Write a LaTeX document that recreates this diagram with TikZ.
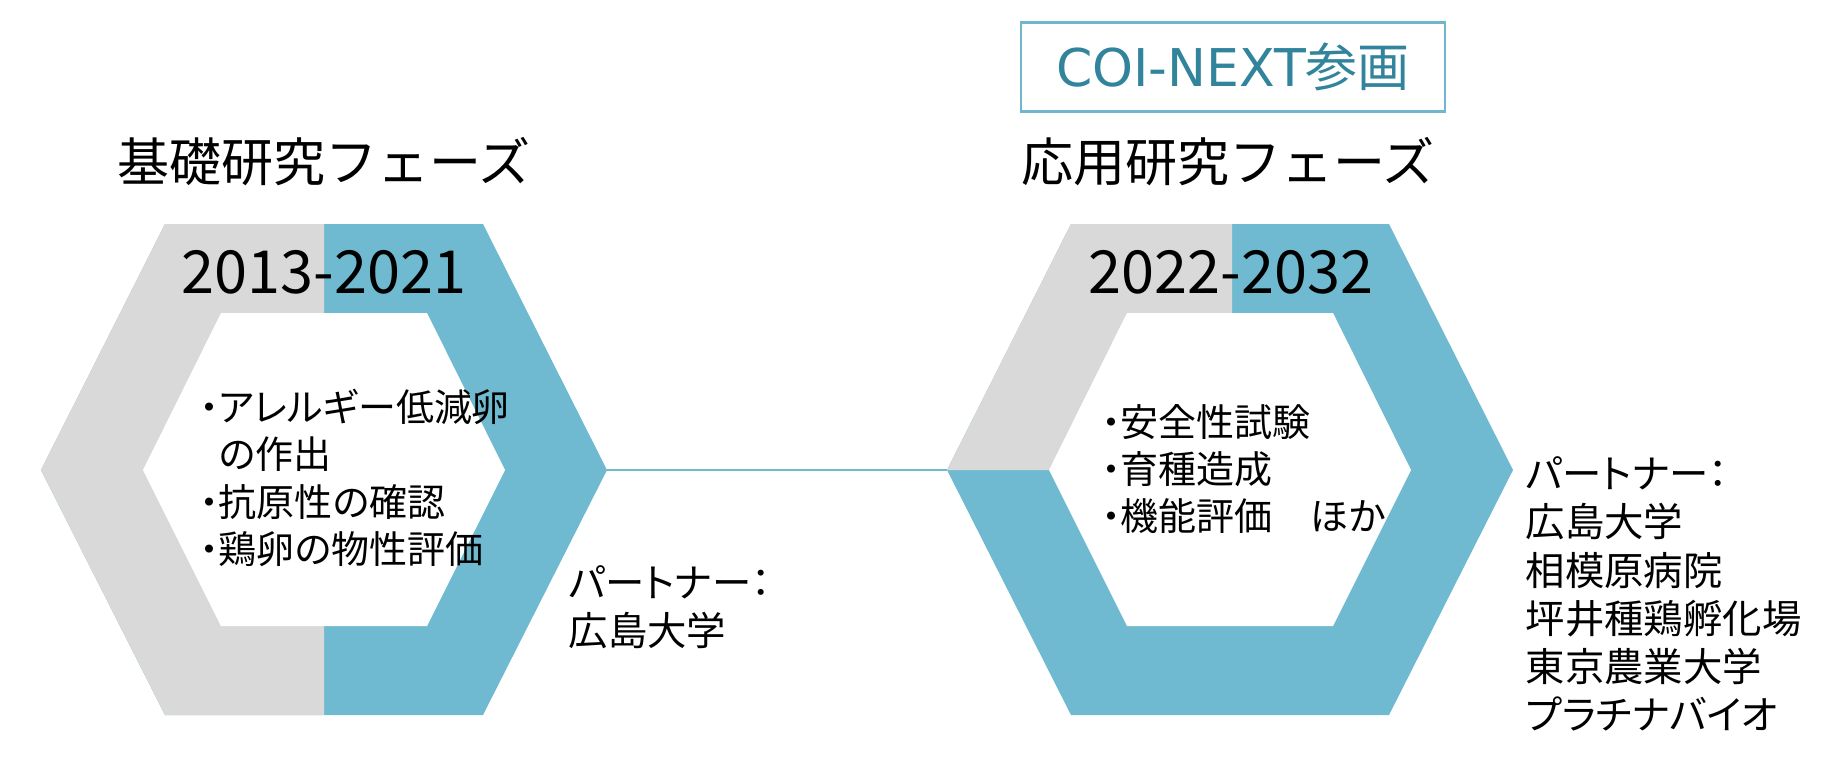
\documentclass[tikz,border=0pt]{standalone}
\usepackage{fontspec}
\setmainfont{Noto Sans CJK JP}[RawFeature=+palt]
\newfontfamily\phasefont{Noto Sans CJK JP}
\newfontfamily\coilatin{DejaVu Sans}
\usepackage{tikz}
\usepackage{xcolor}
\usetikzlibrary{calc}

\definecolor{hexgray}{RGB}{217,217,217}
\definecolor{hexblue}{RGB}{111,186,208}
\definecolor{coiteal}{RGB}{49,132,155}
\definecolor{coiframe}{RGB}{112,182,204}

\begin{document}
\begin{tikzpicture}[x=0.01cm,y=-0.01cm,
      phase/.style={inner sep=0pt,font=\phasefont\fontsize{14.8}{17}\selectfont},
      years/.style={inner sep=0pt,font=\fontsize{16.9}{19}\selectfont},
      items/.style={inner sep=0pt,anchor=west,align=left,
        font=\fontsize{10.8}{13.4}\selectfont},
      partner/.style={inner sep=0pt,anchor=west,align=left,
        font=\fontsize{11.2}{13.7}\selectfont},
      outerhex/.style={insert path={(-159,-246) -- (159,-246) -- (283,0)
        -- (159,245) -- (-159,245) -- (-283,0) -- cycle}},
      innerhex/.style={insert path={(-103,-157) -- (103,-157) -- (181,0)
        -- (103,156) -- (-103,156) -- (-181,0) -- cycle}}]

    \useasboundingbox (0,0) rectangle (1837,757);

    % basic research phase
    \begin{scope}[shift={(324,470)}]
      \fill[hexblue] [outerhex];
      \fill[hexgray] (0,-246) -- (-159,-246) -- (-283,0) -- (-159,245)
        -- (0,245) -- cycle;
      \fill[white] [innerhex];
      \coordinate (basicR) at (283,0);
    \end{scope}

    % applied research phase
    \begin{scope}[shift={(1230,470)}]
      \fill[hexblue] [outerhex];
      \fill[hexgray] (2,-246) -- (-159,-246) -- (-283,0) -- (2,0) -- cycle;
      \fill[white] [innerhex];
      \coordinate (appliedL) at (-283,0);
    \end{scope}

    \draw[hexblue,line width=0.8pt] (basicR) -- (appliedL);

    \node[phase] (basic) at (324,162) {基礎研究フェーズ};
    \node[phase] (applied) at (1228,162) {応用研究フェーズ};
    \node[draw=coiframe,line width=0.6pt,text=coiteal,
      minimum width=4.24cm,minimum height=0.89cm,
      font=\fontsize{14.8}{17}\selectfont] (coi) at (1233,67)
      {{\coilatin COI-NEXT}参画};

    \node[years] (basicyears) at (324,272) {2013-2021};
    \node[years] (appliedyears) at (1231,272) {2022-2032};

    \node[items] (basicitems) at (199,478) {・アレルギー低減卵\\
      \phantom{・}の作出\\・抗原性の確認\\・鶏卵の物性評価};
    \node[items] (applieditems) at (1101,469) {・安全性試験\\・育種造成\\
      ・機能評価　ほか};

    \node[partner] (basicpartner) at (568,607) {パートナー：\\広島大学};
    \node[partner] (appliedpartner) at (1525,594) {パートナー：\\広島大学\\
      相模原病院\\坪井種鶏孵化場\\東京農業大学\\プラチナバイオ};
  \end{tikzpicture}
\end{document}
